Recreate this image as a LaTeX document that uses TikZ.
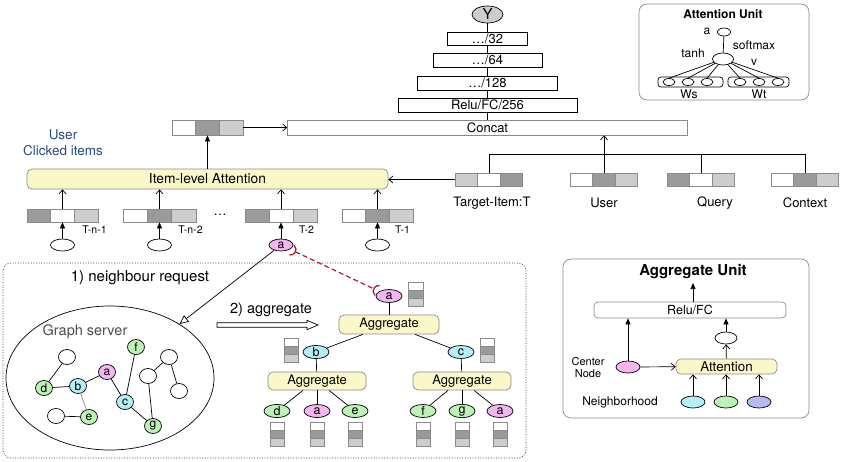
\documentclass[tikz,border=0pt]{standalone}
\usepackage{fontspec}
\setmainfont{TeX Gyre Heros}
\usetikzlibrary{shapes.geometric,arrows.meta,calc}
\definecolor{dk}{HTML}{9A9A9A}
\definecolor{lt}{HTML}{CDCDCD}
\definecolor{bd}{HTML}{8A8A8A}
\definecolor{yel}{HTML}{FAF8C8}
\definecolor{pk}{HTML}{F4B6F0}
\definecolor{cy}{HTML}{B6EEF6}
\definecolor{gr}{HTML}{BDF2B6}
\definecolor{pu}{HTML}{B9B9F2}
\definecolor{bl}{HTML}{254A86}
\definecolor{rd}{HTML}{B01830}
\newcommand\fs[1]{\fontsize{#1}{#1}\selectfont}
\newcommand\hvec[8]{%
  \node[cell,minimum width=#4,minimum height=#5,fill=#6] (#1a) at ({#2-#4},#3) {};
  \node[cell,minimum width=#4,minimum height=#5,fill=#7] (#1b) at (#2,#3) {};
  \node[cell,minimum width=#4,minimum height=#5,fill=#8] (#1c) at ({#2+#4},#3) {};}
% name, x, y of middle cell, width
\newcommand\vvec[4]{%
  \node[cell,minimum width=#4,minimum height=8,fill=white] (#1a) at (#2,{#3-8}) {};
  \node[cell,minimum width=#4,minimum height=8,fill=dk] (#1b) at (#2,#3) {};
  \node[cell,minimum width=#4,minimum height=8,fill=lt] (#1c) at (#2,{#3+8}) {};}
\begin{document}
\begin{tikzpicture}[x=1pt,y=-1pt,line width=0.7pt,
  box/.style={draw,rectangle,inner sep=0,fill=white,font=\fs{13}},
  cell/.style={draw=bd,rectangle,inner sep=0},
  ell/.style={draw,ellipse,inner sep=0,minimum width=24,minimum height=12,font=\fs{12}},
  tn/.style={draw,ellipse,inner sep=0,minimum width=26,minimum height=13,font=\fs{12.5}},
  gn/.style={draw,ellipse,inner sep=0,minimum width=17,minimum height=15,font=\fs{12}},
  yb/.style={draw=bd,fill=yel,rounded corners=5pt,rectangle,inner sep=0},
  lbl/.style={inner sep=0,anchor=center},
  oarr/.style={-{Straight Barb[length=4pt,width=7pt]}},
  farr/.style={-{Triangle[length=6pt,width=5pt]}},
  triarr/.style={-{Triangle[open,length=9pt,width=8pt]}}]
\useasboundingbox (0,0) rectangle (842,461);
% ---- tower
\node[ellipse,draw,fill=lt,minimum width=31,minimum height=17,inner sep=0,font=\fs{15}] (Y) at (487.5,14.5) {Y};
\node[box,minimum width=80,minimum height=13] (t32) at (487.5,38.5) {…/32};
\node[box,minimum width=109,minimum height=14] (t64) at (487.5,60) {…/64};
\node[box,minimum width=140,minimum height=14] (t128) at (487.5,83) {…/128};
\node[box,minimum width=179,minimum height=14] (t256) at (487.5,105) {Relu/FC/256};
\node[box,draw=bd,minimum width=400,minimum height=15] (concat) at (487.5,127.5) {Concat};
\draw (Y) -- (t32);
\draw (t32) -- (t64);
\draw (t64) -- (t128);
\draw (t128) -- (t256);
\draw (t256) -- (concat);
% ---- user clicked items
\hvec{uv}{207.5}{127.5}{23.7}{15}{white}{dk}{lt}
\draw[oarr] (uvc.east) -- (concat.west);
\node[lbl,text=bl,align=center,font=\fontsize{13.5}{16}\selectfont] (uci) at (63,143) {User\\Clicked items};
\node[yb,minimum width=361,minimum height=20,font=\fs{13.8}] (att) at (207.5,179) {Item-level Attention};
\draw[farr] (att.north -| uvb) -- (uvb.south);
\hvec{ha}{62.5}{215.5}{23.7}{13}{dk}{white}{lt}
\hvec{hb}{159.5}{215.5}{24.3}{13}{white}{dk}{lt}
\hvec{hc}{281}{215.5}{24}{13}{dk}{white}{lt}
\hvec{hd}{377.5}{215.5}{23.7}{13}{white}{dk}{lt}
\node[lbl,font=\fs{10.5}] (la) at (94.5,230) {T-n-1};
\node[lbl,font=\fs{10.5}] (lb) at (190.5,230) {T-n-2};
\node[lbl,font=\fs{10.5}] (lc) at (306.5,230) {T-2};
\node[lbl,font=\fs{10.5}] (ld) at (402.5,230) {T-1};
\node[lbl,font=\fs{13}] (dots) at (220,215) {…};
\node[ell] (ea) at (62.5,245) {};
\node[ell] (eb) at (159.5,245) {};
\node[ell,fill=pk] (a2) at (281,245) {a};
\node[ell] (ed) at (377.5,245) {};
\foreach \h/\e in {ha/ea,hb/eb,hc/a2,hd/ed}{
  \draw[farr] (\e) -- (\h b);
  \draw[oarr] (\h b.north) -- (\h b.north |- att.south);}
% ---- target, user, query, context
\hvec{tg}{489}{179.5}{22.5}{13}{lt}{white}{dk}
\hvec{us}{604}{179.5}{22.5}{13}{white}{dk}{lt}
\hvec{qu}{701}{179.5}{22.5}{13}{dk}{white}{lt}
\hvec{cx}{805}{179.5}{22.5}{13}{white}{dk}{lt}
\node[lbl,font=\fs{13}] (ltg) at (492,203) {Target-Item:T};
\node[lbl,font=\fs{13}] (lus) at (604,203) {User};
\node[lbl,font=\fs{13}] (lqu) at (715,203) {Query};
\node[lbl,font=\fs{13}] (lcx) at (805,203) {Context};
\coordinate (bus) at (0,154);
\draw (tgb.north) -- (tgb.north |- bus) -- (cxb.north |- bus) -- (cxb.north);
\draw (qub.north) -- (qub.north |- bus);
\draw[oarr] (usb.north) -- (usb.north |- concat.south);
\draw[oarr] (tga.west) -- (tga.west -| att.east);
% ---- attention unit
\node[draw=bd,rounded corners=8pt,minimum width=170,minimum height=96,inner sep=0] (au) at (724,52) {};
\node[lbl,font=\bfseries\fs{12}] (aut) at (723,14) {Attention Unit};
\node[ellipse,draw,inner sep=0,minimum width=13,minimum height=8] (aua) at (724,32) {};
\node[lbl,font=\fs{12}] (aual) at (707,31) {a};
\node[ellipse,draw,fill=white,inner sep=0,minimum width=21,minimum height=12] (auc) at (723,59) {};
\draw (aua) -- (auc);
\node[lbl,font=\fs{12}] (tanh) at (693,53) {tanh};
\node[lbl,font=\fs{12}] (smax) at (754,45) {softmax};
\node[lbl,font=\fs{12}] (vv) at (754,62) {v};
\node[draw,rounded corners=3pt,minimum width=65,minimum height=10,inner sep=0] (ws) at (690.5,82) {};
\node[draw,rounded corners=3pt,minimum width=61,minimum height=10,inner sep=0] (wt) at (758.5,82) {};
\foreach \i/\x in {1/669,2/688,3/707,4/740,5/759,6/778}{
  \node[ellipse,draw,inner sep=0,minimum width=12,minimum height=7] (s\i) at (\x,82) {};
  \draw (auc) -- (s\i.north);}
\node[lbl,font=\fs{12}] (wsl) at (689,94) {Ws};
\node[lbl,font=\fs{12}] (wtl) at (759,94) {Wt};
% ---- bottom dotted region
\node[draw=black!75,dash pattern=on 1pt off 1.6pt,rounded corners=8pt,minimum width=523,minimum height=195,inner sep=0] (gbox) at (264.5,360.5) {};
\node[lbl,font=\fs{15}] (nr) at (140,278) {1) neighbour request};
\node[ellipse,draw,minimum width=208,minimum height=144,inner sep=0] (gs) at (110,378) {};
\draw[triarr] (a2) -- (gs);
\node[lbl,font=\fs{14.5},text=black!70] (gst) at (85,332) {Graph server};
\node[gn] (w1) at (67,357) {};
\node[gn,fill=gr] (gd) at (44,388) {d};
\node[gn,fill=cy] (gb) at (78,386) {b};
\node[gn,fill=pk] (ga) at (107,372) {a};
\node[gn,fill=gr] (gf) at (136,347) {f};
\node[gn,fill=cy] (gc) at (125,402) {c};
\node[gn] (w2) at (148,376) {};
\node[gn] (w3) at (169,357) {};
\node[gn] (w4) at (179,391) {};
\node[gn,fill=gr] (gg) at (153,426) {g};
\node[gn] (w5) at (56,416) {};
\node[gn,fill=gr] (ge) at (89,417) {e};
\draw (w1) -- (gd);
\draw (gd) -- (gb);
\draw (gb) -- (ga);
\draw[black!45] (gb) -- (ge);
\draw (ga) -- (gc);
\draw (gf) -- (gc);
\draw (gc) -- (gg);
\draw (w2) -- (gg);
\draw (w2) -- (w3);
\draw (w3) -- (w4);
\draw (w5) -- (ge);
\node[lbl,font=\fs{14.5}] (agl) at (271,310) {2) aggregate};
\draw[fill=white] (217,322.8) -- (307,322.8) -- (307,320.3) -- (318,325) -- (307,329.7) -- (307,327.2) -- (217,327.2) -- cycle;
% ---- tree
\node[tn,fill=pk] (ta) at (389,296) {a};
\vvec{tav}{415.5}{294}{15}
\node[yb,minimum width=100,minimum height=19,font=\fs{13}] (ag1) at (389,324.5) {Aggregate};
\node[tn,fill=cy] (tb) at (316,352) {b};
\node[tn,fill=cy] (tc) at (461,352) {c};
\vvec{tbv}{291.5}{350.5}{13.5}
\vvec{tcv}{487}{350.5}{14}
\node[yb,minimum width=98,minimum height=18,font=\fs{13}] (ag2) at (317,381) {Aggregate};
\node[yb,minimum width=98,minimum height=18,font=\fs{13}] (ag3) at (462,381) {Aggregate};
\draw (ta) -- (ag1);
\draw ([xshift=-26pt]ag1.south) -- (tb);
\draw ([xshift=26pt]ag1.south) -- (tc);
\draw (tb) -- (ag2);
\draw (tc) -- (ag3);
\node[tn,fill=gr] (ld1) at (277,411) {d};
\node[tn,fill=pk] (la1) at (317,411) {a};
\node[tn,fill=gr] (le1) at (355,411) {e};
\node[tn,fill=gr] (lf1) at (423,411) {f};
\node[tn,fill=gr] (lg1) at (462,411) {g};
\node[tn,fill=pk] (la2) at (500,411) {a};
\draw ([xshift=-14pt]ag2.south) -- (ld1);
\draw (ag2.south) -- (la1);
\draw ([xshift=12pt]ag2.south) -- (le1);
\draw ([xshift=-14pt]ag3.south) -- (lf1);
\draw (ag3.south) -- (lg1);
\draw ([xshift=12pt]ag3.south) -- (la2);
\vvec{vd}{277.5}{434}{14}
\vvec{va}{317}{434}{14}
\vvec{ve}{355}{434}{14}
\vvec{vf}{423}{434}{14}
\vvec{vg}{462}{434}{14}
\vvec{vh}{500}{434}{14}
% red dashed link with bracket caps
\coordinate (rp1) at ($(a2)!16pt!(ta)$);
\coordinate (rc1) at ($(a2)!10.5pt!(ta)$);
\coordinate (rp2) at ($(ta)!17pt!(a2)$);
\coordinate (rc2) at ($(ta)!11.5pt!(a2)$);
\draw[rd,line width=1.2pt,dash pattern=on 5pt off 3pt] (rp1) -- (rp2);
\draw[rd,line width=1.3pt] (rc1) ++(-49.7:5.5) arc[start angle=-49.7,end angle=100.3,radius=5.5];
\draw[rd,line width=1.3pt] (rc2) ++(130.3:5.5) arc[start angle=130.3,end angle=280.3,radius=5.5];
% ---- aggregate unit
\node[draw=bd,rounded corners=8pt,minimum width=246,minimum height=159,inner sep=0] (agu) at (686,338.5) {};
\node[lbl,font=\bfseries\fs{15}] (agut) at (693,272) {Aggregate Unit};
\node[draw=bd,fill=white,rounded corners=4pt,minimum width=192,minimum height=16,inner sep=0,font=\fs{12.5}] (relu) at (690,310) {Relu/FC};
\coordinate (aguout) at (693,283);
\draw[farr] (relu.north -| aguout) -- (aguout);
\node[ell,fill=pk] (cn) at (628,367) {};
\node[lbl,align=center,font=\fontsize{11}{12}\selectfont] (cnl) at (588,367) {Center\\Node};
\node[yb,minimum width=101,minimum height=15,font=\fs{13.4}] (attn) at (726.5,366.5) {Attention};
\node[ellipse,draw,inner sep=0,minimum width=22,minimum height=12] (ao) at (726,338) {};
\draw[farr] (cn.north) -- (cn.north |- relu.south);
\draw[oarr] (cn) -- (attn);
\draw[oarr] (attn) -- (ao);
\draw[farr] (ao) -- (ao |- relu.south);
\node[lbl,font=\fs{12}] (nbl) at (620,402) {Neighborhood};
\node[ell,fill=cy] (n1) at (693,402) {};
\node[ell,fill=gr] (n2) at (726,402) {};
\node[ell,fill=pu] (n3) at (759,402) {};
\foreach \n in {n1,n2,n3}{\draw[oarr] (\n.north) -- (\n.north |- attn.south);}
\end{tikzpicture}
\end{document}
